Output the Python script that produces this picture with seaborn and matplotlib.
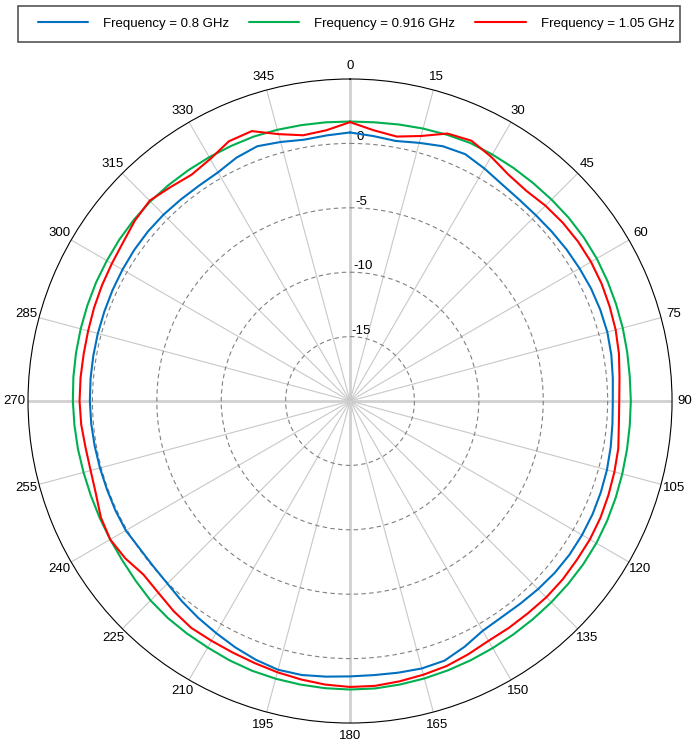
import numpy as np
import pandas as pd
import seaborn as sns
import matplotlib.pyplot as plt
from matplotlib.lines import Line2D
from matplotlib.patches import Rectangle

sns.set_theme(style="white")
plt.rcParams['font.family'] = ['Liberation Sans', 'DejaVu Sans']
plt.rcParams['text.color'] = 'black'
plt.rcParams['xtick.color'] = 'black'
plt.rcParams['ytick.color'] = 'black'

# gain in dB, read every 5 degrees (0..355)
angles_deg = list(range(0, 360, 5))
gain_08 = [0.85, 0.65, 0.5, 0.75, 1.05, 1.15, 0.85, 0.55, 0.42, 0.4, 0.45, 0.52,
           0.58, 0.65, 0.68, 0.68, 0.6, 0.48, 0.4, 0.45, 0.55, 0.65, 0.72, 0.78,
           0.8, 0.8, 0.75, 0.65, 0.55, 0.5, 0.6, 1.05, 1.45, 1.5, 1.42, 1.36,
           1.38, 1.48, 1.6, 1.6, 1.38, 1.1, 0.8, 0.55, 0.3, 0.05, -0.05, -0.05,
           0.1, 0.1, 0.08, 0.1, 0.13, 0.17, 0.2, 0.22, 0.24, 0.27, 0.3, 0.35,
           0.4, 0.45, 0.48, 0.47, 0.43, 0.42, 0.5, 0.85, 1.05, 0.82, 0.6, 0.7]
gain_0916 = [1.7, 1.72, 1.8, 1.9, 2.0, 2.1, 2.1, 2.1, 2.1, 2.12, 2.15, 2.15,
             2.12, 2.05, 1.98, 1.92, 1.85, 1.8, 1.8, 1.8, 1.83, 1.88, 1.95, 2.02,
             2.08, 2.1, 2.1, 2.1, 2.1, 2.12, 2.15, 2.2, 2.25, 2.3, 2.35, 2.4,
             2.4, 2.38, 2.35, 2.32, 2.28, 2.2, 2.1, 2.05, 2.0, 1.9, 1.72, 1.58,
             1.5, 1.45, 1.42, 1.42, 1.45, 1.48, 1.52, 1.56, 1.6, 1.65, 1.7, 1.76,
             1.8, 1.86, 1.9, 1.92, 1.9, 1.88, 1.86, 1.85, 1.85, 1.8, 1.75, 1.72]
gain_105 = [1.65, 1.1, 0.85, 1.3, 2.1, 2.3, 1.9, 1.45, 1.3, 1.45, 1.55, 1.6,
            1.6, 1.55, 1.45, 1.35, 1.2, 1.0, 0.9, 0.95, 1.15, 1.25, 1.35, 1.45,
            1.5, 1.5, 1.55, 1.55, 1.5, 1.5, 1.5, 1.7, 1.9, 2.0, 2.1, 2.2,
            2.2, 2.1, 1.95, 1.8, 1.65, 1.55, 1.5, 1.5, 1.3, 1.05, 0.95, 1.3,
            1.5, 1.35, 1.0, 0.85, 0.85, 0.95, 1.0, 1.0, 1.0, 1.05, 1.15, 1.25,
            1.35, 1.5, 1.8, 2.0, 1.68, 1.45, 1.7, 2.25, 2.3, 1.45, 0.95, 1.1]

series_labels = ["Frequency = 0.8 GHz", "Frequency = 0.916 GHz", "Frequency = 1.05 GHz"]
colors = ["#0070C0", "#00B050", "#FF0000"]
theta_ticks = list(range(0, 360, 15))
r_ticks = [-15, -10, -5, 0]

frames = []
for label, gains in zip(series_labels, [gain_08, gain_0916, gain_105]):
    # close the loop back at 360
    frames.append(pd.DataFrame({
        "theta": np.deg2rad(angles_deg + [360]),
        "gain": gains + gains[:1],
        "Series": label,
    }))
df = pd.concat(frames, ignore_index=True)

fig = plt.figure(figsize=(6.97, 7.46), dpi=100)
ax = fig.add_axes([0.0402, 0.0308, 0.924, 0.8633], projection="polar")
ax.set_theta_zero_location("N")
ax.set_theta_direction(-1)

sns.lineplot(data=df, x="theta", y="gain", hue="Series", palette=colors,
             linewidth=1.5, sort=False, estimator=None, legend=False, ax=ax)

ax.set_ylim(-20, 5)
ax.set_yticks(r_ticks)
ax.set_yticklabels([str(t) for t in r_ticks], fontsize=9.5)
ax.set_rlabel_position(1.5)
ax.set_xticks(np.deg2rad(theta_ticks))
ax.set_xticklabels([str(t) for t in theta_ticks], fontsize=9.5)
ax.tick_params(axis="x", pad=-3.5, labelcolor="black")
ax.tick_params(axis="y", labelcolor="black")
ax.set_xlabel("")
ax.set_ylabel("")

ax.grid(True)
ax.xaxis.grid(True, color="#c8c8c8", linewidth=0.8, linestyle="-")
ax.yaxis.grid(True, color="#808080", linewidth=0.8, linestyle=(0, (4, 3)))
for i, gl in enumerate(ax.xaxis.get_gridlines()):
    if i % 6 == 0:
        gl.set_linewidth(2.0)
        gl.set_color("#d0d0d0")
ax.spines["polar"].set_color("black")
ax.spines["polar"].set_linewidth(0.8)

# legend box
fig.patches.append(Rectangle((18 / 697, 1 - 42 / 746), 662 / 697, 36 / 746,
                             transform=fig.transFigure, fill=False,
                             edgecolor="#555555", linewidth=1.2))
handles = [Line2D([0], [0], color=c, lw=1.5) for c in colors]
leg = fig.legend(handles, series_labels, loc="center",
                 bbox_to_anchor=(356 / 697, 1 - 24 / 746),
                 ncol=3, fontsize=9.5, frameon=False, handlelength=3.8,
                 handletextpad=1.14, columnspacing=1.52, borderaxespad=0,
                 labelcolor="black")

fig.savefig("out.png", dpi=100)
